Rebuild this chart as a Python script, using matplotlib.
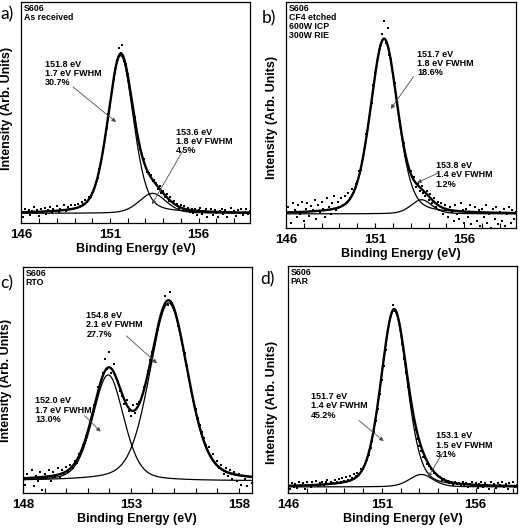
import numpy as np
import matplotlib
matplotlib.use('Agg')
import matplotlib.pyplot as plt
from matplotlib.ticker import MultipleLocator

plt.rcParams['font.family'] = ['Liberation Sans', 'DejaVu Sans']

# ---- data (normalised intensity, 0.1 eV steps) ----
a_start = 146.0
a_counts = [
    .01, -.02, .03, .00, .02, -.01, .015, .04, .00, .02,
    -.015, .025, .01, .035, -.005, .02, .04, .005, .03, .015,
    .045, .01, .03, .02, .05, .015, .04, .025, .055, .03,
    .05, .035, .06, .045, .07, .06, .085, .07, .10, .10,
    .13, .15, .19, .22, .28, .32, .39, .47, .53, .62,
    .67, .77, .84, .90, .96, 1.03, 1.00, 1.05, .95, .93,
    .87, .78, .73, .64, .60, .51, .47, .40, .37, .34,
    .30, .26, .25, .24, .20, .21, .19, .15, .17, .13,
    .14, .10, .12, .08, .10, .07, .075, .05, .06, .035,
    .05, .025, .045, .02, .035, .01, .03, .005, .025, -.01,
    .02, .035, -.005, .015, .03, -.02, .01, .025, -.01, .02,
    .005, -.025, .015, .03, -.005, .02, -.02, .01, .035, .00,
    .015, -.015, .02, .005, .03, -.01, .01, .025, -.005, .015,
]
a_centers = [151.6, 153.4]
a_fwhm = [1.7, 1.8]
a_heights = [0.985, 0.125]
a_header = "S606\nAs received"
a_notes = ["151.8 eV\n1.7 eV FWHM\n30.7%", "153.6 eV\n1.8 eV FWHM\n4.5%"]

b_start = 146.0
b_counts = [
    -.03, .04, .01, -.05, .06, .02, -.02, .05, .00, .07,
    -.04, .03, .06, -.01, .045, .02, .08, -.03, .05, .01,
    .07, .03, -.02, .09, .04, .00, .06, .10, .02, .07,
    .04, .09, .05, .10, .07, .12, .09, .14, .13, .17,
    .18, .24, .25, .33, .36, .45, .50, .58, .63, .73,
    .80, .86, .93, .95, 1.02, 1.09, .97, 1.05, .90, .88,
    .80, .74, .64, .60, .52, .43, .40, .33, .30, .25,
    .24, .20, .21, .15, .17, .13, .16, .12, .10, .13,
    .08, .11, .06, .09, .04, .07, .02, .06, .00, .05,
    .03, -.02, .04, .01, -.04, .05, .00, -.03, .06, .02,
    -.05, .03, -.02, .05, -.06, .01, .04, -.04, .02, -.07,
    .03, -.02, .05, -.05, .00, -.08, .03, -.03, .04, -.06,
    .01, -.04, .03, -.07, .00, .04, -.05, .02, -.03, .01,
]
b_centers = [151.5, 153.6]
b_fwhm = [1.8, 1.4]
b_heights = [0.99, 0.08]
b_header = "S606\nCF4 etched\n600W ICP\n300W RIE"
b_notes = ["151.7 eV\n1.8 eV FWHM\n18.6%", "153.8 eV\n1.4 eV FWHM\n1.2%"]

c_start = 148.0
c_counts = [
    .05, -.02, .04, .01, .06, -.03, .03, .00, .05, -.05,
    .04, .02, .06, .00, .05, .03, .07, .02, .06, .04,
    .08, .05, .09, .07, .11, .10, .15, .16, .20, .25,
    .27, .33, .36, .42, .45, .52, .56, .60, .68, .62,
    .72, .60, .65, .57, .55, .50, .47, .43, .45, .39,
    .36, .42, .38, .43, .44, .47, .52, .55, .61, .67,
    .72, .76, .84, .88, .93, .96, 1.03, .98, 1.05, .99,
    .95, .93, .86, .83, .75, .71, .64, .57, .51, .45,
    .40, .35, .31, .27, .24, .20, .19, .14, .15, .10,
    .11, .07, .09, .04, .07, .03, .06, .01, .05, .00,
    .04, -.02, .03, .01, -.03, .02, -.01,
]
c_centers = [151.95, 154.75]
c_fwhm = [1.7, 2.1]
c_heights = [0.59, 0.99]
c_header = "S606\nRTO"
c_notes = ["154.8 eV\n2.1 eV FWHM\n27.7%", "152.0 eV\n1.7 eV FWHM\n13.0%"]

d_start = 146.0
d_counts = [
    .01, -.01, .02, .00, .015, -.005, .025, .005, .02, -.01,
    .03, .01, .00, .025, .01, .035, .005, .02, .03, .01,
    .025, .04, .015, .03, .02, .04, .025, .045, .03, .05,
    .035, .055, .04, .06, .05, .07, .06, .08, .075, .10,
    .10, .13, .15, .18, .22, .26, .31, .37, .44, .52,
    .60, .68, .77, .85, .91, .96, 1.02, .99, .97, .93,
    .87, .80, .72, .64, .56, .49, .43, .37, .32, .27,
    .23, .20, .17, .16, .13, .12, .10, .095, .08, .075,
    .06, .055, .04, .045, .03, .035, .02, .03, .01, .025,
    .015, .02, .005, .025, .01, .02, .00, .015, .025, .005,
    .02, -.005, .015, .03, .00, .02, .01, -.01, .025, .005,
    .015, -.005, .02, .01, .03, .00, .015, -.01, .02, .005,
    .025, .00, .01,
]
d_centers = [151.65, 153.1]
d_fwhm = [1.65, 1.5]
d_heights = [0.99, 0.07]
d_header = "S606\nPAR"
d_notes = ["151.7 eV\n1.4 eV FWHM\n45.2%", "153.1 eV\n1.5 eV FWHM\n3.1%"]


def pseudo_voigt(x, c, fwhm, h, eta=0.3):
    r = (x - c) / (fwhm / 2)
    return h * ((1 - eta) * np.exp(-np.log(2) * r ** 2) + eta / (1 + r ** 2))


# ---- layout (figure fractions / data coords) ----
panels = [
    dict(rect=[0.0413, 0.5777, 0.4395, 0.4186], xlim=(146, 158.9), ylim=(-0.06, 1.32),
         ticks=146, start=a_start, counts=a_counts, centers=a_centers, fwhm=a_fwhm,
         heights=a_heights, header=a_header, notes=a_notes, letter="a)", letter_xy=(0.0, 0.973),
         ylab=(-0.037, 0.52),
         note_pos=[(147.3, 0.96), (154.7, 0.535)],
         arrows=[((148.9, 0.79), (151.34, 0.57)), ((155.1, 0.39), (153.36, 0.056))]),
    dict(rect=[0.55, 0.5682, 0.4423, 0.428], xlim=(146, 158.9), ylim=(-0.08, 1.2),
         ticks=146, start=b_start, counts=b_counts, centers=b_centers, fwhm=b_fwhm,
         heights=b_heights, header=b_header, notes=b_notes, letter="b)", letter_xy=(0.504, 0.966),
         ylab=(-0.035, 0.49),
         note_pos=[(153.35, 0.93), (154.4, 0.3)],
         arrows=[((153.15, 0.777), (151.88, 0.595)), ((154.5, 0.23), (153.35, 0.176))]),
    dict(rect=[0.0442, 0.0663, 0.4398, 0.428], xlim=(148, 158.6), ylim=(-0.067, 1.19),
         ticks=148, start=c_start, counts=c_counts, centers=c_centers, fwhm=c_fwhm,
         heights=c_heights, header=c_header, notes=c_notes, letter="c)", letter_xy=(0.0, 0.464),
         ylab=(-0.046, 0.5),
         note_pos=[(150.94, 0.946), (148.57, 0.47)],
         arrows=[((152.79, 0.807), (154.21, 0.654)), ((150.86, 0.363), (151.6, 0.274))]),
    dict(rect=[0.5538, 0.0663, 0.4404, 0.4299], xlim=(146, 158.2), ylim=(-0.034, 1.24),
         ticks=146, start=d_start, counts=d_counts, centers=d_centers, fwhm=d_fwhm,
         heights=d_heights, header=d_header, notes=d_notes, letter="d)", letter_xy=(0.5, 0.47),
         ylab=(-0.044, 0.40),
         note_pos=[(147.21, 0.532), (153.87, 0.313)],
         arrows=[((149.78, 0.373), (151.1, 0.257)), ((154.23, 0.19), (153.46, 0.054))]),
]

fig = plt.figure(figsize=(5.2, 5.28), dpi=100)

for p in panels:
    ax = fig.add_axes(p["rect"])
    energy = p["start"] + 0.1 * np.arange(len(p["counts"]))
    ax.plot(energy, p["counts"], 's', color='black', ms=1.8, mew=0)

    x = np.linspace(p["xlim"][0], p["xlim"][1], 600)
    total = np.zeros_like(x)
    for c, w, h in zip(p["centers"], p["fwhm"], p["heights"]):
        comp = pseudo_voigt(x, c, w, h)
        total += comp
        ax.plot(x, comp, color='black', lw=0.9)
    ax.plot(x, total, color='black', lw=1.7)

    ax.set_xlim(*p["xlim"])
    ax.set_ylim(*p["ylim"])
    ax.xaxis.set_minor_locator(MultipleLocator(1))
    ax.set_xticks(np.arange(p["ticks"], p["xlim"][1], 5))
    ax.tick_params(axis='x', which='both', direction='in', length=3.5, width=0.8,
                   labelsize=9.5, pad=4)
    for lab in ax.get_xticklabels():
        lab.set_fontweight('bold')
    ax.set_yticks([])
    for s in ax.spines.values():
        s.set_linewidth(0.9)

    ax.set_xlabel("Binding Energy (eV)", fontsize=9, fontweight='bold', labelpad=2)
    ax.set_ylabel("Intensity (Arb. Units)", fontsize=9, fontweight='bold')
    ax.yaxis.set_label_coords(*p["ylab"])

    ax.text(0.012, 0.993, p["header"], transform=ax.transAxes, ha='left', va='top',
            fontsize=6.3, fontweight='bold', linespacing=1.0)
    for txt, (tx, ty) in zip(p["notes"], p["note_pos"]):
        ax.text(tx, ty, txt, ha='left', va='top', fontsize=6.5, fontweight='bold',
                linespacing=1.05)
    for start, tip in p["arrows"]:
        ax.annotate('', xy=tip, xytext=start,
                    arrowprops=dict(arrowstyle='-|>', color='0.3', lw=0.6,
                                    mutation_scale=6, shrinkA=0, shrinkB=0))

    fig.text(p["letter_xy"][0], p["letter_xy"][1], p["letter"], fontsize=12.5,
             family=['Lato', 'DejaVu Sans'], ha='left', va='center')

fig.savefig("out.png", dpi=100)
